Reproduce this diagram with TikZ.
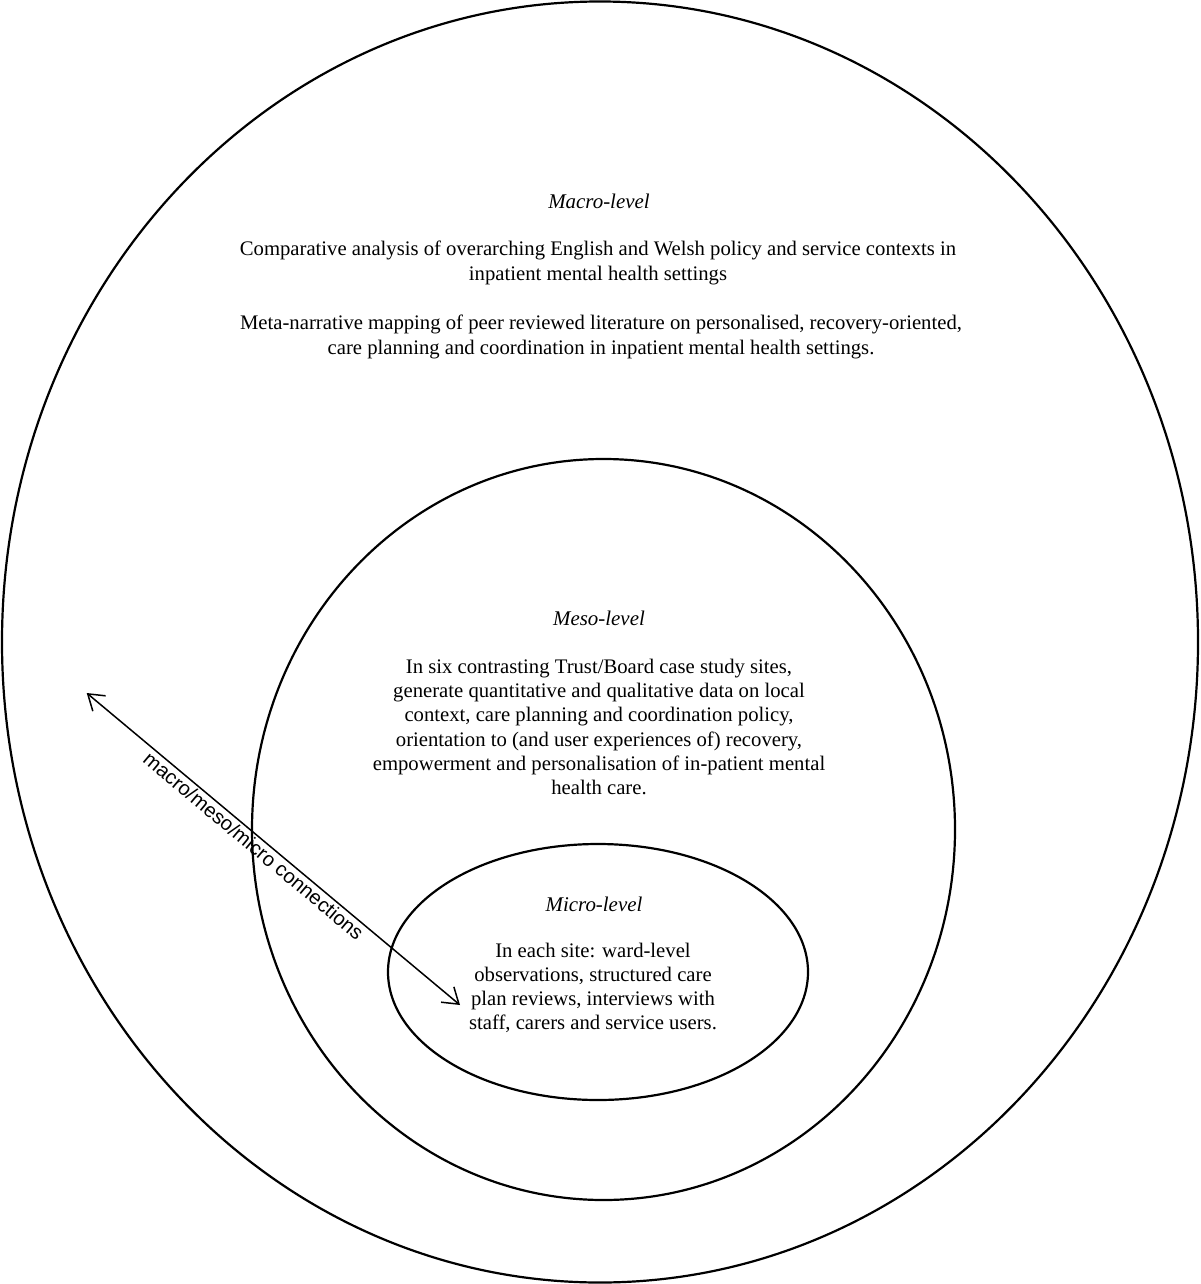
\documentclass[tikz,border=0pt]{standalone}
\usepackage{fontspec}
\setmainfont{Liberation Serif}
\newfontfamily\labelsans{Liberation Sans}
\usetikzlibrary{arrows.meta,calc}
\tikzset{
  ring/.style={draw=black, line width=2.2pt},
  body/.style={align=center, font=\fontsize{20.7}{24.2}\selectfont, inner sep=0pt},
  head/.style={font=\fontsize{20.9}{24}\selectfont\itshape, inner sep=0pt},
  link/.style={line width=1.5pt, {Straight Barb[length=15pt,width=20pt]}-{Straight Barb[length=15pt,width=20pt]}},
  linklabel/.style={font=\labelsans\fontsize{20.2}{22}\selectfont, sloped, below, inner sep=2pt}
}
\begin{document}
\begin{tikzpicture}[x=1pt,y=-1pt]
\useasboundingbox (0,0) rectangle (1200,1284);
\fill[white] (0,0) rectangle (1200,1284);
% rings
\draw[ring] (600,642) ellipse [x radius=598, y radius=640.5];
\draw[ring] (603.5,829.5) ellipse [x radius=351.5, y radius=370.5];
\draw[ring] (598,972) ellipse [x radius=210, y radius=128];
% macro
\node[head] (macrotitle) at (599,201) {Macro-level};
\node[body] (macroa) at (598,263) {Comparative analysis of overarching English and Welsh policy and service contexts in\\inpatient mental health settings};
\node[body] (macrob) at (601,337) {Meta-narrative mapping of peer reviewed literature on personalised, recovery-oriented,\\care planning and coordination in inpatient mental health settings.};
% meso
\node[head] (mesotitle) at (599,618) {Meso-level};
\node[body] (mesobody) at (599,727) {In six contrasting Trust/Board case study sites,\\generate quantitative and qualitative data on local\\context, care planning and coordination policy,\\orientation to (and user experiences of) recovery,\\empowerment and personalisation of in-patient mental\\health care.};
% micro
\node[head] (microtitle) at (594,904) {Micro-level};
\node[body] (microbody) at (593,988) {In each site: ward-level\\observations, structured care\\plan reviews, interviews with\\staff, carers and service users.};
% connector
\coordinate (linktop) at (86.7,693);
\coordinate (linkbottom) at (460,1005);
\draw[link] (linktop) -- node[linklabel, pos=0.465] {macro/meso/micro connections} (linkbottom);
\end{tikzpicture}
\end{document}
